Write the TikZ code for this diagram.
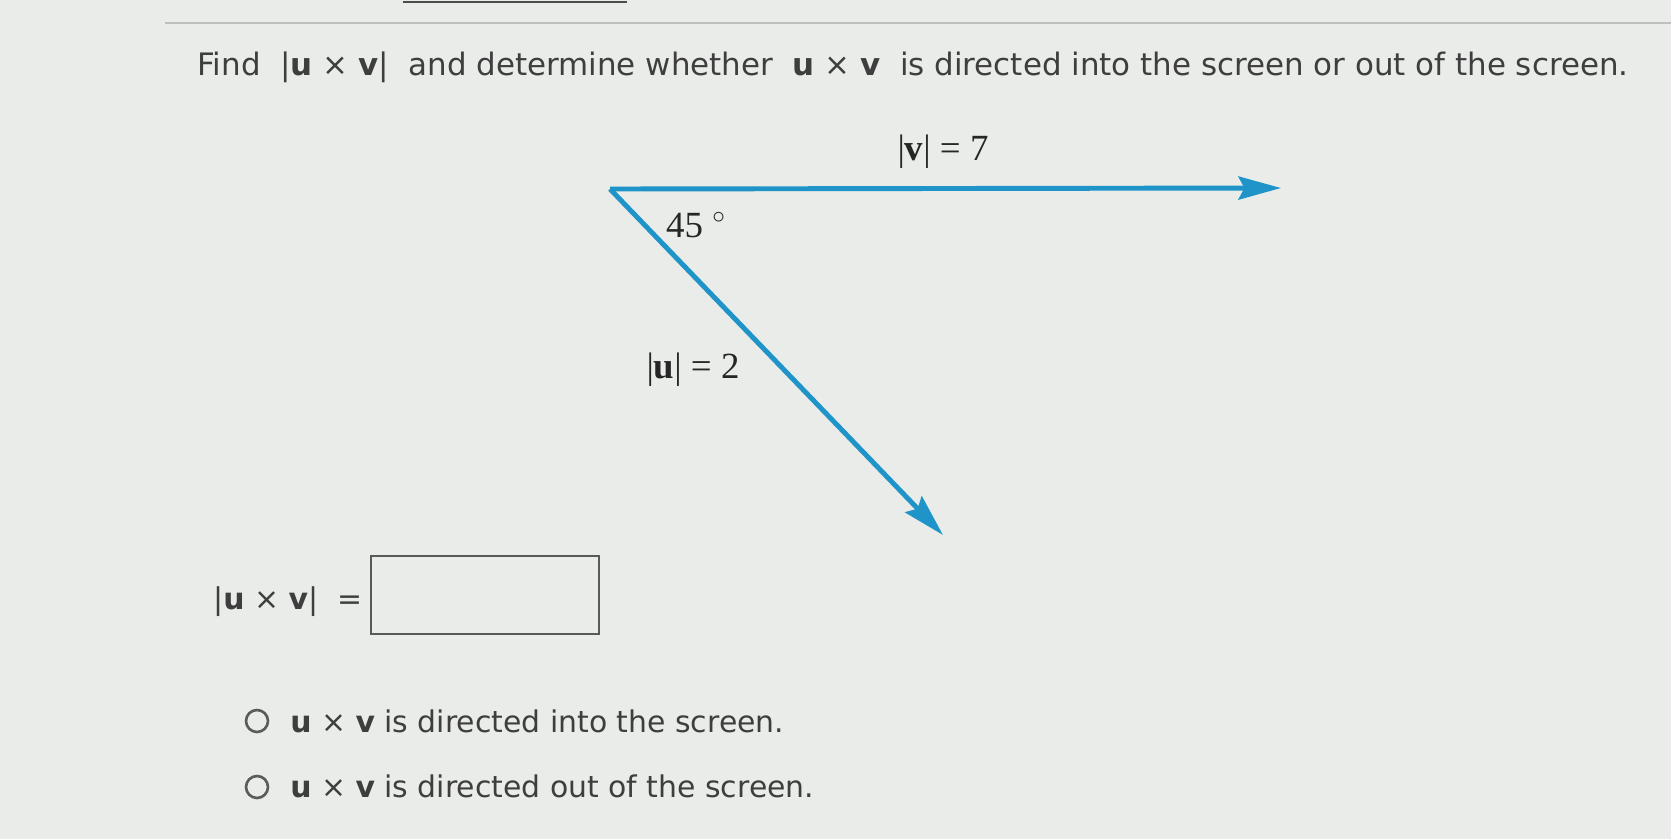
\documentclass[tikz,border=0pt]{standalone}
\usepackage{amsmath}
\usepackage{fontspec}
\setmainfont{DejaVu Sans}
\newfontfamily\labelfont{Liberation Serif}
\usetikzlibrary{arrows.meta}
\definecolor{vecblue}{RGB}{30,148,200}
\definecolor{screenbg}{RGB}{233,236,232}
\definecolor{ink}{RGB}{62,62,62}
\tikzstyle{vec}=[draw=vecblue, line width=2.8pt, -{Stealth[length=8.5mm, width=4.6mm, inset=1.2mm]}]
\tikzstyle{lbl}=[inner sep=0pt, text=black!85, font=\labelfont\fontsize{21}{24}\selectfont]
\tikzstyle{txt}=[inner sep=0pt, anchor=base west, text=ink, font=\fontsize{17}{20}\selectfont]
\tikzstyle{radio}=[draw=ink!85, circle, line width=1.5pt, inner sep=0pt, minimum size=4.4mm]

\begin{document}
\begin{tikzpicture}[x=0.02cm, y=-0.02cm]
        \fill[screenbg] (0, 0) rectangle (1671, 839);
        \useasboundingbox (0, 0) rectangle (1671, 839);
        \draw[black!25, line width=0.6pt] (165, 23) -- (1671, 23);
        \draw[black!70, line width=1.2pt] (403, 2) -- (627, 2);
        % question
        \node[txt, font=\fontsize{17.6}{20}\selectfont] (question) at (197, 75) {Find \ |\textbf{u} × \textbf{v}| \ and determine whether \ \textbf{u} × \textbf{v} \ is directed into the screen or out of the screen.};
        % vectors
        \coordinate (O) at (610, 189);
        \coordinate (V) at (1281, 188);
        \coordinate (U) at (943, 535);
        \draw[vec] (O) -- (V);
        \draw[vec] (O) -- (U);
        \node[lbl] (vlabel) at (943, 152) {|\textbf{v}| = 7};
        \node[lbl] (angle) at (696, 225) {45 $^{\circ}$};
        \node[lbl] (ulabel) at (693, 370) {|\textbf{u}| = 2};
        % answer
        \node[txt] (cross) at (213, 609) {|\textbf{u} × \textbf{v}| \ =};
        \node[draw=black!65, line width=0.8pt, inner sep=0pt, minimum width=4.56cm, minimum height=1.56cm] (answer) at (485, 595) {};
        % choices
        \node[radio] (into) at (257, 721) {};
        \node[txt] (intotext) at (290, 732) {\textbf{u} × \textbf{v} is directed into the screen.};
        \node[radio] (out) at (257, 787) {};
        \node[txt] (outtext) at (290, 797) {\textbf{u} × \textbf{v} is directed out of the screen.};
    \end{tikzpicture}
\end{document}
